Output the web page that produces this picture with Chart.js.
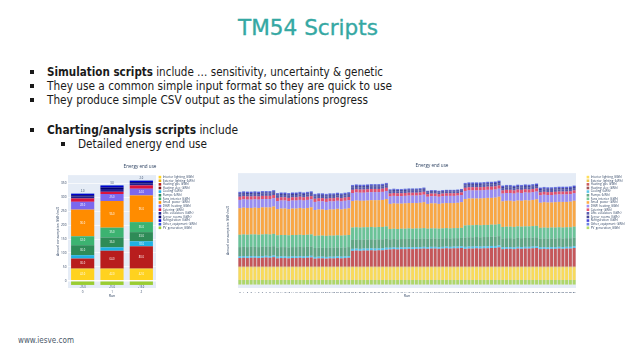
<!DOCTYPE html>
<html><head><meta charset="utf-8">
<script src="https://cdn.jsdelivr.net/npm/chart.js"></script>
<style>
html,body{margin:0;padding:0;background:#fff;}
body{width:638px;height:359px;overflow:hidden;position:relative;font-family:"DejaVu Sans","Open Sans",sans-serif;}
#title{position:absolute;left:238px;top:15px;font-family:"DejaVu Sans",sans-serif;font-size:21.5px;line-height:26px;color:#35a8a3;white-space:nowrap;transform-origin:0 50%;-webkit-text-stroke:0.35px #35a8a3;}
.b{position:absolute;font-size:12px;line-height:14px;color:#1a1a1a;white-space:nowrap;transform-origin:0 50%;}
.b b{font-weight:bold;}
.sq{position:absolute;width:4px;height:4px;background:#1a1a1a;}
#url{position:absolute;left:18px;top:334px;font-size:9px;line-height:12px;color:#4a5868;white-space:nowrap;transform-origin:0 50%;}
.cv{position:absolute;}
</style></head>
<body>
<div id="title" data-w="140">TM54 Scripts</div>
<div class="sq" style="left:30px;top:70px"></div>
<div class="b" data-w="336" style="left:47px;top:65px"><b>Simulation scripts</b> include … sensitivity, uncertainty &amp; genetic</div>
<div class="sq" style="left:30px;top:84px"></div>
<div class="b" data-w="345" style="left:47px;top:79px">They use a common simple input format so they are quick to use</div>
<div class="sq" style="left:30px;top:98px"></div>
<div class="b" data-w="321" style="left:47px;top:93px">They produce simple CSV output as the simulations progress</div>
<div class="sq" style="left:30px;top:128px"></div>
<div class="b" data-w="191" style="left:47px;top:123px"><b>Charting/analysis scripts</b> include</div>
<div class="sq" style="left:61px;top:142px"></div>
<div class="b" data-w="129" style="left:78px;top:137px">Detailed energy end use</div>
<div id="url" data-w="56">www.iesve.com</div>
<canvas id="c1" class="cv" width="196" height="142" style="left:30px;top:158px;width:196px;height:142px"></canvas>
<canvas id="c2" class="cv" width="412" height="142" style="left:226px;top:158px;width:412px;height:142px"></canvas>
<script>
// ---------- DATA ----------
const seriesNames = ['Interior_lighting_(kWh)','Exterior_lighting_(kWh)','Heating_gas_(kWh)','Heating_elec_(kWh)','Cooling_(kWh)','Pumps_(kWh)','Fans_interior_(kWh)','Small_power_(kWh)','DHW_heating_(kWh)','Catering_(kWh)','Lifts_escalators_(kWh)','Server_rooms_(kWh)','Refrigeration_(kWh)','Other_equipment_(kWh)','PV_generation_(kWh)'];

const runsL = ['0','1','2'];
const yellowL = [42,42,42];
const goldL = [2,2,2];
const heatGasL = [36,64,80];
const heatElecL = [0,0,0];
const coolL = [12,12,18];
const pumpsL = [36,36,33];
const fansL = [32,35,36];
const powerL = [96,96,96];
const purpleL = [28,25,24];
const redL = [12,8,12];
const navyL = [8,10,8];
const navy2L = [4,6,4];
const blueL = [4,5,4];
const royalL = [2,3,2];
const pvL = [-15,-15,-15];

const runsR = ['0','1','2','3','4','5','6','7','8','9','10','11','12','13','14','15','16','17','18','19','20','21','22','23','24','25','26','27','28','29','30','31','32','33','34','35','36','37','38','39','40','41','42','43','44','45','46','47','48','49','50','51','52','53','54','55','56','57','58','59','60','61','62','63','64','65','66','67','68','69','70','71','72','73','74','75','76','77','78','79','80','81','82','83','84','85','86','87','88','89'];
const yellowR = [43,43,43,43,43,43,43,43,43,43, 43,43,43,43,43,43,43,43,43,43, 43,43,43,43,43,43,43,43,43,43, 43,43,43,43,43,43,43,43,43,43, 43,43,43,43,43,43,43,43,43,43, 43,43,43,43,43,43,43,43,43,43, 43,43,43,43,43,43,43,43,43,43, 43,43,43,43,43,43,43,43,43,43, 43,43,43,43,43,43,43,43,43,43];
const goldR = [3,3,3,3,3,3,3,3,3,3, 3,3,3,3,3,3,3,3,3,3, 3,3,3,3,3,3,3,3,3,3, 3,3,3,3,3,3,3,3,3,3, 3,3,3,3,3,3,3,3,3,3, 3,3,3,3,3,3,3,3,3,3, 3,3,3,3,3,3,3,3,3,3, 3,3,3,3,3,3,3,3,3,3, 3,3,3,3,3,3,3,3,3,3];
const heatGasR = [30,31,30,31,31,30,31,32,31,33, 29,30,30,29,30,30,31,30,31,32, 28,29,29,28,29,29,30,29,30,31, 55,56,55,56,56,57,56,57,57,59, 60,61,60,61,61,62,61,62,62,63, 62,63,63,62,63,64,63,64,64,65, 62,63,63,64,63,64,64,65,65,67, 61,62,62,61,63,62,63,63,64,65, 61,62,61,62,62,63,62,63,63,65];
const heatElecR = [0,0,0,0,0,0,0,0,0,0, 0,0,0,0,0,0,0,0,0,0, 0,0,0,0,0,0,0,0,0,0, 0,0,0,0,0,0,0,0,0,0, 0,0,0,0,0,0,0,0,0,0, 0,0,0,0,0,0,0,0,0,0, 0,0,0,0,0,0,0,0,0,0, 0,0,0,0,0,0,0,0,0,0, 0,0,0,0,0,0,0,0,0,0];
const coolR = [6,6,6,6,6,6,6,6,6,6, 6,6,6,6,6,6,6,6,6,6, 6,6,6,6,6,6,6,6,6,6, 7,7,7,7,7,7,7,7,7,7, 6,6,6,6,6,6,6,6,6,6, 6,6,6,6,6,6,6,6,6,6, 7,7,7,7,7,7,7,7,7,7, 6,6,6,6,6,6,6,6,6,6, 6,6,6,6,6,6,6,6,6,6];
const pumpsR = [32,32,32,32,32,32,32,32,32,32, 32,32,32,32,32,32,32,32,32,32, 31,31,31,31,31,31,31,31,31,31, 31,31,31,31,31,31,31,31,31,31, 29,29,29,29,29,29,29,29,29,29, 29,29,29,29,29,29,29,29,29,29, 32,32,32,32,32,32,32,32,32,32, 31,31,31,31,31,31,31,31,31,31, 30,30,30,30,30,30,30,30,30,30];
const fansR = [43,43,43,43,43,43,43,43,43,43, 42,42,42,42,42,42,42,42,42,42, 42,42,42,42,42,42,42,42,42,42, 43,43,43,43,43,43,43,43,43,43, 36,36,36,36,36,36,36,36,36,36, 35,35,35,35,35,35,35,35,35,35, 42,42,42,42,42,42,42,42,42,42, 40,40,40,40,40,40,40,40,40,40, 38,38,38,38,38,38,38,38,38,38];
const powerR = [92,93,93,92,93,93,94,93,94,95, 91,92,92,91,92,92,93,92,93,94, 90,91,91,90,91,91,92,91,92,93, 92,93,93,92,93,93,94,93,94,95, 87,88,88,87,88,88,89,88,89,90, 86,87,87,86,87,87,88,87,88,89, 92,93,93,92,93,93,94,93,94,95, 89,90,90,89,90,90,91,90,91,92, 87,88,88,87,88,88,89,88,89,90];
const purpleR = [29,29,29,29,29,29,29,29,29,29, 28,28,28,28,28,28,28,28,28,28, 28,28,28,28,28,28,28,28,28,28, 28,28,28,28,28,28,28,28,28,28, 26,26,26,26,26,26,26,26,26,26, 25,25,25,25,25,25,25,25,25,25, 28,28,28,28,28,28,28,28,28,28, 27,27,27,27,27,27,27,27,27,27, 26,26,26,26,26,26,26,26,26,26];
const redR = [11,11,11,11,11,11,11,11,11,11, 11,11,11,11,11,11,11,11,11,11, 11,11,11,11,11,11,11,11,11,11, 11,11,11,11,11,11,11,11,11,11, 10,10,10,10,10,10,10,10,10,10, 9,9,9,9,9,9,9,9,9,9, 11,11,11,11,11,11,11,11,11,11, 11,11,11,11,11,11,11,11,11,11, 10,10,10,10,10,10,10,10,10,10];
const navyR = [8,8,8,8,8,8,8,8,8,8, 8,8,8,8,8,8,8,8,8,8, 8,8,8,8,8,8,8,8,8,8, 8,8,8,8,8,8,8,8,8,8, 7,7,7,7,7,7,7,7,7,7, 6,6,6,6,6,6,6,6,6,6, 8,8,8,8,8,8,8,8,8,8, 8,8,8,8,8,8,8,8,8,8, 8,8,8,8,8,8,8,8,8,8];
const navy2R = [4,4,4,4,4,4,4,4,4,4, 4,4,4,4,4,4,4,4,4,4, 4,4,4,4,4,4,4,4,4,4, 4,4,4,4,4,4,4,4,4,4, 4,4,4,4,4,4,4,4,4,4, 3,3,3,3,3,3,3,3,3,3, 4,4,4,4,4,4,4,4,4,4, 4,4,4,4,4,4,4,4,4,4, 4,4,4,4,4,4,4,4,4,4];
const blueR = [3,3,3,3,3,3,3,3,3,3, 3,3,3,3,3,3,3,3,3,3, 3,3,3,3,3,3,3,3,3,3, 3,3,3,3,3,3,3,3,3,3, 2,2,2,2,2,2,2,2,2,2, 2,2,2,2,2,2,2,2,2,2, 3,3,3,3,3,3,3,3,3,3, 3,3,3,3,3,3,3,3,3,3, 3,3,3,3,3,3,3,3,3,3];
const royalR = [2,2,2,2,2,2,2,2,2,2, 2,2,2,2,2,2,2,2,2,2, 2,2,2,2,2,2,2,2,2,2, 2,2,2,2,2,2,2,2,2,2, 2,2,2,2,2,2,2,2,2,2, 1,1,1,1,1,1,1,1,1,1, 2,2,2,2,2,2,2,2,2,2, 2,2,2,2,2,2,2,2,2,2, 2,2,2,2,2,2,2,2,2,2];
const pvR = [-16,-16,-16,-16,-16,-16,-16,-16,-16,-16, -16,-16,-16,-16,-16,-16,-16,-16,-16,-16, -16,-16,-16,-16,-16,-16,-16,-16,-16,-16, -16,-16,-16,-16,-16,-16,-16,-16,-16,-16, -16,-16,-16,-16,-16,-16,-16,-16,-16,-16, -16,-16,-16,-16,-16,-16,-16,-16,-16,-16, -16,-16,-16,-16,-16,-16,-16,-16,-16,-16, -16,-16,-16,-16,-16,-16,-16,-16,-16,-16, -16,-16,-16,-16,-16,-16,-16,-16,-16,-16];

const yTickStep = 50;
const seriesL = [yellowL,goldL,heatGasL,heatElecL,coolL,pumpsL,fansL,powerL,purpleL,redL,navyL,navy2L,blueL,royalL,pvL];
const seriesR = [yellowR,goldR,heatGasR,heatElecR,coolR,pumpsR,fansR,powerR,purpleR,redR,navyR,navy2R,blueR,royalR,pvR];

// ---------- STYLE ----------
const colors = ['#FFD21F','#E8B10E','#B81D1D','#7E1414','#1FB2E3','#2E8B57','#3CB371','#FF8C00','#7B68EE','#DC143C','#1F1F8F','#00006E','#0000CD','#3452D8','#9ACD32'];
function rgba(hex,a){const n=parseInt(hex.slice(1),16);return `rgba(${n>>16&255},${n>>8&255},${n&255},${a})`;}
const FONT = '"Open Sans","DejaVu Sans",sans-serif';
const TXT = '#2a3f5f';

const plotBg = {id:'plotBg', beforeDraw(chart){const a=chart.chartArea,ctx=chart.ctx;ctx.save();ctx.fillStyle='#E5ECF6';ctx.fillRect(a.left,a.top,a.right-a.left,a.bottom-a.top);ctx.restore();}};
const legendFix = {id:'legendFix',
  beforeUpdate(chart,args,opts){const lg=chart.legend;if(lg&&!lg._fx){const f=lg.fit.bind(lg);lg.fit=function(){f();this.width=opts.w;};lg._fx=true;}},
  afterLayout(chart,args,opts){const lg=chart.legend;if(lg){lg.left+=opts.dx;lg.right+=opts.dx;lg.top+=opts.dy;lg.bottom+=opts.dy;}}};
const barLabels = {id:'barLabels', afterDatasetsDraw(chart,args,opts){
  if(!opts.on) return;
  const ctx=chart.ctx;ctx.save();ctx.font=`2.6px ${FONT}`;ctx.textAlign='center';ctx.textBaseline='middle';
  chart.data.datasets.forEach((ds,i)=>{const meta=chart.getDatasetMeta(i);
    meta.data.forEach((el,j)=>{const v=ds.data[j];if(!v)return;const p=el.getProps(['x','y','base'],true);
      const h=Math.abs(p.base-p.y);
      if(v<0){ctx.fillStyle=TXT;ctx.fillText(v.toFixed(1),p.x,Math.max(p.y,p.base)+2);}
      else if(h>=5){ctx.fillStyle='#fff';ctx.fillText(v.toFixed(1),p.x,(p.y+p.base)/2);}
      else if(i===13){ctx.fillStyle=TXT;ctx.fillText(v.toFixed(1),p.x,Math.min(p.y,p.base)-2);}
    });});
  ctx.restore();}};

function build(id, labels, series, cfg){
  const datasets = series.map((d,i)=>({label:seriesNames[i], data:d, backgroundColor:cfg.alpha<1?rgba(colors[i],cfg.alpha):colors[i], borderWidth:0, barPercentage:cfg.barPct, categoryPercentage:1}));
  return new Chart(document.getElementById(id), {
    type:'bar',
    data:{labels, datasets},
    plugins:[plotBg, legendFix, barLabels],
    options:{
      responsive:false, animation:false, devicePixelRatio:1,
      layout:{padding:{left:cfg.padLeft,right:0,top:0,bottom:0}},
      plugins:{
        title:{display:true,text:'Energy end use',color:TXT,font:{family:FONT,size:4.6,weight:'normal'},padding:{top:cfg.titleTop,bottom:cfg.titleBottom}},
        legend:{position:'right',align:'start',labels:{font:{family:FONT,size:3,lineHeight:1.1},color:TXT,boxWidth:2.6,boxHeight:2.6,padding:0.62}},
        tooltip:{enabled:false},
        legendFix:{w:cfg.legendW,dx:cfg.legendDx,dy:17},
        barLabels:{on:cfg.labels}
      },
      scales:{
        x:{stacked:true, grid:{display:false,drawTicks:false}, border:{display:false},
           ticks:{autoSkip:false,maxRotation:0,minRotation:0,font:{family:FONT,size:cfg.xFont},color:TXT,padding:2.5},
           title:{display:true,text:'Run',color:TXT,font:{family:FONT,size:3.5},padding:{top:0,bottom:1.9}},
           afterFit(s){s.height=12;}},
        y:{stacked:true, min:cfg.ymin, max:cfg.ymax,
           grid:{color:'#ffffff',lineWidth:c=>c.tick&&c.tick.value===0?1.4:0.7,drawTicks:false}, border:{display:false},
           ticks:{stepSize:yTickStep,font:{family:FONT,size:3.2},color:TXT,padding:1.5},
           afterBuildTicks(s){s.ticks=s.ticks.filter(t=>t.value%yTickStep===0);},
           title:{display:true,text:'Annual consumption (kWh/m2)',color:TXT,font:{family:FONT,size:3.4},padding:{top:cfg.yTitlePad,bottom:0}},
           afterFit(s){s.width=cfg.yW;}}
      }
    }
  });
}

build('c1', runsL, seriesL, {alpha:1, barPct:0.79, padLeft:24, titleTop:6.3, titleBottom:5.3, legendW:70, legendDx:2, labels:true, xFont:3, ymin:-26, ymax:380, yW:14, yTitlePad:1.9});
build('c2', runsR, seriesR, {alpha:0.72, barPct:0.8, padLeft:0, titleTop:5.3, titleBottom:4.3, legendW:62, legendDx:10, labels:false, xFont:2.5, ymin:-28, ymax:371, yW:12, yTitlePad:0});

// fit slide text widths
document.querySelectorAll('[data-w]').forEach(el=>{const w=el.getBoundingClientRect().width;const t=+el.dataset.w;el.style.transform=`scaleX(${t/w})`;});
</script>
</body></html>
